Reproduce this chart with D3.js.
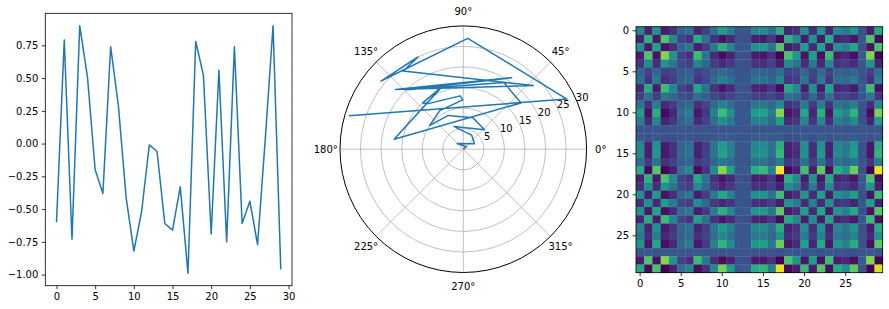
<!DOCTYPE html>
<html><head><meta charset="utf-8">
<script src="https://cdn.jsdelivr.net/npm/d3@7"></script>
<style>
body{margin:0;background:#fff}
svg text{font-family:"DejaVu Sans",sans-serif;font-size:10px;fill:#000}
</style>
</head><body>
<svg id="chart" width="889" height="309"></svg>
<script>
// ---- data ----
const xIndex = [0,1,2,3,4,5,6,7,8,9,10,11,12,13,14,15,16,17,18,19,20,21,22,23,24,25,26,27,28,29];
const yValues = [-0.60, 0.79, -0.73, 0.90, 0.51, -0.20, -0.38, 0.74, 0.29, -0.41,
                 -0.82, -0.52, -0.01, -0.06, -0.61, -0.66, -0.33, -0.99, 0.78, 0.52,
                 -0.69, 0.56, -0.75, 0.74, -0.61, -0.44, -0.77, 0.04, 0.90, -0.96];
const lineTicksX = [0,5,10,15,20,25,30];
const lineTicksY = [-1.00,-0.75,-0.50,-0.25,0.00,0.25,0.50,0.75];
const polarAngleTicks = [0,45,90,135,180,225,270,315];
const polarRadiusTicks = [5,10,15,20,25,30];
const heatTicks = [0,5,10,15,20,25];

const svg = d3.select("#chart");
const blue = "#1f77b4";

// ---------- left: line plot ----------
{
  const L = 45.3, R = 292, T = 13.3, B = 285.7;
  const xs = d3.scaleLinear().domain([-1.45, 30.45]).range([L, R]);
  const [mn, mx] = d3.extent(yValues);
  const m = (mx - mn) * 0.05;
  const ys = d3.scaleLinear().domain([mn - m, mx + m]).range([B, T]);
  const g = svg.append("g");
  g.append("path").datum(xIndex)
    .attr("fill","none").attr("stroke",blue).attr("stroke-width",1.5)
    .attr("stroke-linejoin","round")
    .attr("d", d3.line().x(i => xs(i)).y(i => ys(yValues[i])));
  const ax = g.append("g").attr("transform",`translate(0,${B})`)
    .call(d3.axisBottom(xs).tickValues(lineTicksX).tickSize(3.5).tickPadding(3.5).tickFormat(d3.format("d")));
  const ay = g.append("g").attr("transform",`translate(${L},0)`)
    .call(d3.axisLeft(ys).tickValues(lineTicksY).tickSize(3.5).tickPadding(3.5).tickFormat(d3.format(".2f")));
  [ax, ay].forEach(a => { a.select(".domain").remove(); a.selectAll("line").attr("stroke","#000").attr("stroke-width",0.8); a.selectAll("text").attr("font-size",null).attr("font-family",null); });
  g.append("rect").attr("x",L).attr("y",T).attr("width",R-L).attr("height",B-T)
    .attr("fill","none").attr("stroke","#000").attr("stroke-width",0.8);
}

// ---------- middle: polar plot ----------
{
  const cx = 463.3, cy = 149.2, R = 123.3;
  const rs = d3.scaleLinear().domain([0, 30]).range([0, R]);
  const g = svg.append("g").attr("transform",`translate(${cx},${cy})`);
  polarRadiusTicks.filter(r => r < 30).forEach(r => {
    g.append("circle").attr("r", rs(r)).attr("fill","none").attr("stroke","#b0b0b0").attr("stroke-width",0.8);
  });
  polarAngleTicks.forEach(a => {
    const t = a * Math.PI / 180;
    g.append("line").attr("x1",0).attr("y1",0)
      .attr("x2", R*Math.cos(t)).attr("y2", -R*Math.sin(t))
      .attr("stroke","#b0b0b0").attr("stroke-width",0.8);
    g.append("text").attr("x", 137.5*Math.cos(t)).attr("y", -137.5*Math.sin(t))
      .attr("text-anchor","middle").attr("dominant-baseline","central").text(a + "°");
  });
  const lt = 22.5 * Math.PI / 180;
  polarRadiusTicks.forEach(r => {
    g.append("text").attr("x", rs(r)*Math.cos(lt) + 5).attr("y", -rs(r)*Math.sin(lt) - 5)
      .attr("text-anchor","middle").attr("dominant-baseline","central").text(r);
  });
  // theta = arccos(value), r = index
  g.append("path").datum(xIndex)
    .attr("fill","none").attr("stroke",blue).attr("stroke-width",1.5).attr("stroke-linejoin","round")
    .attr("d", d3.lineRadial().angle(i => Math.PI/2 - Math.acos(yValues[i])).radius(i => rs(i)));
  g.append("circle").attr("r", R).attr("fill","none").attr("stroke","#000").attr("stroke-width",1);
}

// ---------- right: heatmap (exp of outer product) ----------
{
  const L = 636, R = 882.7, T = 26.7, B = 272.7;
  const xs = d3.scaleBand().domain(xIndex).range([L, R]).padding(0);
  const ys = d3.scaleBand().domain(xIndex).range([T, B]).padding(0);
  const cells = [];
  xIndex.forEach(i => xIndex.forEach(j => cells.push({i, j, v: Math.exp(yValues[i]*yValues[j])})));
  const color = d3.scaleSequential(d3.interpolateViridis).domain(d3.extent(cells, d => d.v));
  const g = svg.append("g");
  g.selectAll("rect.c").data(cells).join("rect").attr("class","c")
    .attr("x", d => xs(d.j)).attr("y", d => ys(d.i))
    .attr("width", xs.bandwidth()+0.3).attr("height", ys.bandwidth()+0.3)
    .attr("fill", d => color(d.v));
  const ax = g.append("g").attr("transform",`translate(0,${B})`)
    .call(d3.axisBottom(xs).tickValues(heatTicks).tickSize(3.5).tickPadding(3.5));
  const ay = g.append("g").attr("transform",`translate(${L},0)`)
    .call(d3.axisLeft(ys).tickValues(heatTicks).tickSize(3.5).tickPadding(3.5));
  [ax, ay].forEach(a => { a.select(".domain").remove(); a.selectAll("line").attr("stroke","#000").attr("stroke-width",0.8); a.selectAll("text").attr("font-size",null).attr("font-family",null); });
  g.append("rect").attr("x",L).attr("y",T).attr("width",R-L).attr("height",B-T)
    .attr("fill","none").attr("stroke","#000").attr("stroke-width",0.8);
}
</script>
</body></html>
